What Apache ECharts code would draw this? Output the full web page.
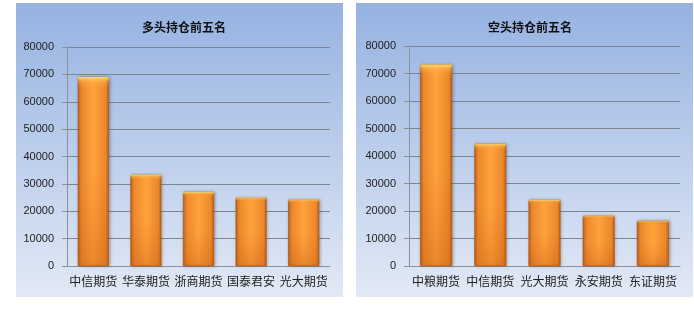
<!DOCTYPE html>
<html><head><meta charset="utf-8">
<script src="https://cdn.jsdelivr.net/npm/echarts@6/dist/echarts.min.js"></script>
<style>html,body{margin:0;padding:0;background:#fff}#c{width:694px;height:318px}</style>
</head><body><div id="c"></div>
<script>
const longTitle = '多头持仓前五名';
const longCategories = ['中信期货','华泰期货','浙商期货','国泰君安','光大期货'];
const longValues = [69000, 33300, 27000, 25000, 24300];
const shortTitle = '空头持仓前五名';
const shortCategories = ['中粮期货','中信期货','光大期货','永安期货','东证期货'];
const shortValues = [73300, 44500, 24000, 18300, 16400];
const yTicks = [0,10000,20000,30000,40000,50000,60000,70000,80000];

const chart = echarts.init(document.getElementById('c'), null, {renderer:'canvas'});
const bgFill = new echarts.graphic.LinearGradient(0,0,0,1,[{offset:0,color:'#95b2e1'},{offset:1,color:'#e2e9f5'}]);
const barFill = new echarts.graphic.LinearGradient(0,0,1,0,[
  {offset:0,color:'#bd6016'},{offset:0.1,color:'#ec872c'},{offset:0.5,color:'#ffa23c'},{offset:0.9,color:'#ec872c'},{offset:1,color:'#bd6016'}]);
const shadeFill = new echarts.graphic.LinearGradient(0,0,0,1,[
  {offset:0,color:'rgba(255,230,120,0.9)'},{offset:0.025,color:'rgba(255,200,90,0.3)'},{offset:0.06,color:'rgba(255,160,60,0)'},{offset:0.5,color:'rgba(200,90,20,0)'},{offset:1,color:'rgba(190,80,10,0.3)'}]);

function yAxis(gi){
  return {type:'value', gridIndex:gi, min:0, max:80000, interval:10000,
    axisLine:{show:true,lineStyle:{color:'#8c9099',width:1}},
    axisTick:{show:true,length:5,lineStyle:{color:'#8c9099'}},
    splitLine:{lineStyle:{color:'#7f858f',width:1}},
    axisLabel:{color:'#222',fontSize:11,fontFamily:'Liberation Sans, Arial',margin:13,
      formatter:v=>yTicks.includes(v)?String(v):''}};
}
function xAxis(gi,cats){
  return {type:'category', gridIndex:gi, data:cats,
    axisLine:{show:true,lineStyle:{color:'#8c9099'}},
    axisTick:{show:false},
    axisLabel:{color:'#222',fontSize:12,fontFamily:'Noto Sans CJK SC',margin:9,interval:0}};
}
function bars(gi,vals){
  return [
    {type:'bar', xAxisIndex:gi, yAxisIndex:gi, data:vals, barWidth:'59%', barGap:'-100%',
     itemStyle:{color:barFill,borderColor:'#a8561a',borderWidth:0.6,shadowColor:'rgba(60,40,20,0.35)',shadowBlur:3,shadowOffsetX:1},
     animation:false, silent:true},
    {type:'bar', xAxisIndex:gi, yAxisIndex:gi, data:vals, barWidth:'59%', barGap:'-100%',
     itemStyle:{color:shadeFill}, animation:false, silent:true}
  ];
}
chart.setOption({
  animation:false,
  graphic:[
    {type:'rect', shape:{x:16,y:3,width:327,height:294}, style:{fill:bgFill}, z:-10},
    {type:'rect', shape:{x:356,y:3,width:337,height:294}, style:{fill:bgFill}, z:-10}
  ],
  title:[
    {text:longTitle, left:179, top:16, textAlign:'center', textStyle:{fontSize:12,fontWeight:'bold',color:'#111',fontFamily:'Noto Sans CJK SC'}},
    {text:shortTitle, left:525, top:16, textAlign:'center', textStyle:{fontSize:12,fontWeight:'bold',color:'#111',fontFamily:'Noto Sans CJK SC'}}
  ],
  grid:[
    {left:67, top:47, width:263, height:219},
    {left:409, top:46, width:271, height:220}
  ],
  xAxis:[xAxis(0,longCategories), xAxis(1,shortCategories)],
  yAxis:[yAxis(0), yAxis(1)],
  series:[...bars(0,longValues), ...bars(1,shortValues)]
});
</script></body></html>
